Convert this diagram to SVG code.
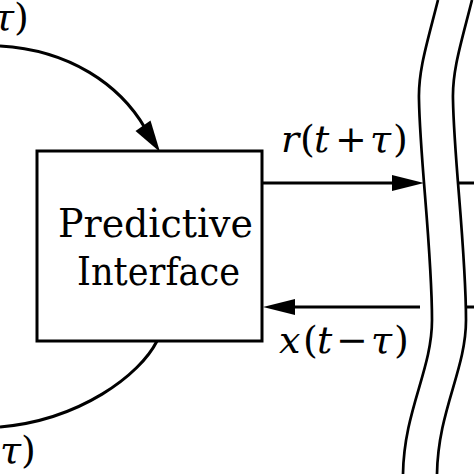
<svg xmlns="http://www.w3.org/2000/svg" width="474" height="474" viewBox="0 0 474 474">
<style>
.ln{fill:none;stroke:#000;stroke-width:3}
.wv{fill:none;stroke:#000;stroke-width:2.7}
.ah{fill:#000;stroke:none}
.lbl{font-family:"DejaVu Serif",serif;font-size:40px;fill:#000}
.math{font-family:"DejaVu Serif",serif;font-style:italic;font-size:38px;fill:#000}
.up{font-style:normal}
</style>
<rect width="474" height="474" fill="#fff"/>
<g id="channel">
<path class="wv" d="M438,0 C428,40 418,70 419,100 C420,160 432,250 432,320 C432,370 404,410 403,474"/>
<path class="wv" d="M472,0 C462,40 452,70 453,100 C454,160 466,250 466,320 C466,370 438,410 437,474"/>
</g>
<g id="interface">
<rect x="37" y="151" width="225" height="190" fill="#fff" stroke="#000" stroke-width="3"/>
<text class="lbl" x="58" y="237" textLength="195" lengthAdjust="spacingAndGlyphs">Predictive</text>
<text class="lbl" x="77" y="285" textLength="163" lengthAdjust="spacingAndGlyphs">Interface</text>
</g>
<g id="connectors">
<path class="ln" d="M0,46 C70,50 120,85 145,128"/>
<polygon class="ah" points="160,152 135.5,131 150.5,120.5"/>
<path class="ln" d="M157,341 C140,375 80,420 0,427"/>
<line class="ln" x1="263" y1="183" x2="395" y2="183"/>
<polygon class="ah" points="424,183 392,175 392,191"/>
<line class="ln" x1="420" y1="307" x2="290" y2="307"/>
<polygon class="ah" points="263,307 295,299 295,315"/>
<line class="ln" x1="457" y1="183" x2="474" y2="183"/>
<line class="ln" x1="467" y1="307" x2="474" y2="307"/>
</g>
<g id="labels">
<text class="math" y="152"><tspan x="281">r</tspan><tspan class="up" x="300">(</tspan><tspan x="314">t</tspan><tspan class="up" x="335">+</tspan><tspan x="370">τ</tspan><tspan class="up" x="393">)</tspan></text>
<text class="math" y="353"><tspan x="279">x</tspan><tspan class="up" x="303">(</tspan><tspan x="317">t</tspan><tspan class="up" x="336">−</tspan><tspan x="371">τ</tspan><tspan class="up" x="394">)</tspan></text>
<text class="math" x="-7" y="30" font-size="36">τ<tspan class="up">)</tspan></text>
<text class="math" x="0" y="463" font-size="36">τ<tspan class="up">)</tspan></text>
</g>
</svg>
